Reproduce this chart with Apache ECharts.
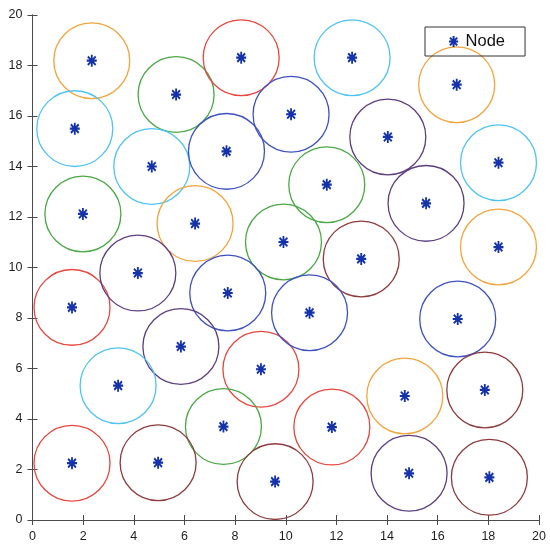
<!DOCTYPE html>
<html>
<head>
<meta charset="utf-8">
<script src="https://cdn.jsdelivr.net/npm/echarts@6/dist/echarts.min.js"></script>
<style>html,body{margin:0;padding:0;background:#fff;}#c{width:550px;height:547px;}</style>
</head>
<body>
<div id="c"></div>
<script>
// Node positions
const nodeX = [2.34, 5.67, 8.24, 1.67, 4.71, 7.66, 1.99, 6.42, 10.21, 12.62, 16.75, 14.03, 18.40, 11.62, 15.54, 9.91, 12.98, 18.40,
               1.56, 4.16, 7.71, 5.86, 9.02, 3.38, 7.54, 1.56, 4.96, 9.58, 10.94, 16.79, 14.70, 17.86, 11.82, 14.87, 18.04];
const nodeY = [18.19, 16.85, 18.31, 15.50, 14.00, 14.60, 12.12, 11.74, 16.07, 18.31, 17.24, 15.17, 14.15, 13.28, 12.54, 11.01, 10.34, 10.81,
               8.42, 9.78, 8.99, 6.87, 5.97, 5.32, 3.70, 2.25, 2.27, 1.52, 8.21, 7.96, 4.91, 5.15, 3.68, 1.85, 1.69];
const circleColor = ['orange','green','red','cyan','cyan','blue','green','orange','blue','cyan','orange','purple','cyan','green','purple','green','brown','orange',
               'red','purple','blue','purple','red','cyan','green','red','brown','brown','blue','blue','orange','brown','red','purple','brown'];
const coverageRadius = 1.5;
const xTicks = [0, 20, 2];
const yTicks = [0, 20, 2];
const seriesName = 'Node';

const palette = {
  orange: '#F4A43C', green: '#4AA845', red: '#E8463F', cyan: '#4FC3F5',
  blue: '#3D51C2', purple: '#5D3D80', brown: '#8E3B3D'
};
const markerColor = '#1432AA';
const star = 'path://M0,-5.5L0,5.5M-4.6,0L4.6,0M-3.6,-3.9L3.6,3.9M-3.6,3.9L3.6,-3.9';

const chart = echarts.init(document.getElementById('c'), null, {renderer: 'canvas'});
const axisCommon = {
  min: xTicks[0], max: xTicks[1], interval: xTicks[2],
  axisLine: {show: true, lineStyle: {color: '#4a4a4a', width: 1}},
  axisTick: {show: true, inside: true, length: 5, lineStyle: {color: '#4a4a4a'}},
  splitLine: {show: false}
};
const labelStyle = {color: '#1e1e1e', fontSize: 12.5, fontFamily: 'Liberation Sans'};

chart.setOption({
  animation: false,
  backgroundColor: '#fff',
  grid: {left: 32.5, right: 11, top: 15, bottom: 27},
  legend: {
    data: [{name: seriesName, icon: star}],
    left: 425, top: 27, width: 101, height: 30,
    orient: 'horizontal',
    padding: [6, 20, 6, 23],
    itemWidth: 10, itemHeight: 11, itemGap: 0,
    borderColor: '#333', borderWidth: 1,
    selectedMode: false,
    textStyle: {fontSize: 16.5, color: '#111', fontFamily: 'Liberation Sans', padding: [0, 0, 0, 2]}
  },
  xAxis: [
    Object.assign({}, axisCommon, {type: 'value', position: 'bottom', axisLabel: Object.assign({margin: 10}, labelStyle)}),
    Object.assign({}, axisCommon, {type: 'value', position: 'top', axisLabel: {show: false}})
  ],
  yAxis: [
    Object.assign({}, axisCommon, {type: 'value', min: yTicks[0], max: yTicks[1], interval: yTicks[2], position: 'left', axisLabel: Object.assign({margin: 10}, labelStyle)}),
    Object.assign({}, axisCommon, {type: 'value', min: yTicks[0], max: yTicks[1], interval: yTicks[2], position: 'right', axisLabel: {show: false}})
  ],
  series: [
    {
      type: 'custom',
      name: 'coverage',
      clip: false,
      silent: true,
      z: 2,
      data: nodeX.map((x, i) => [x, nodeY[i], i]),
      renderItem: function (params, api) {
        const c = api.coord([api.value(0), api.value(1)]);
        const s = api.size([coverageRadius, coverageRadius]);
        const idx = api.value(2);
        return {
          type: 'ellipse',
          shape: {cx: c[0], cy: c[1], rx: s[0], ry: s[1]},
          style: {fill: 'none', stroke: palette[circleColor[idx]], lineWidth: 1.3}
        };
      }
    },
    {
      type: 'scatter',
      name: seriesName,
      z: 5,
      symbol: star,
      symbolSize: [10, 12],
      itemStyle: {color: 'rgba(0,0,0,0)', borderColor: markerColor, borderWidth: 2, opacity: 1},
      data: nodeX.map((x, i) => [x, nodeY[i]])
    }
  ]
});
</script>
</body>
</html>
